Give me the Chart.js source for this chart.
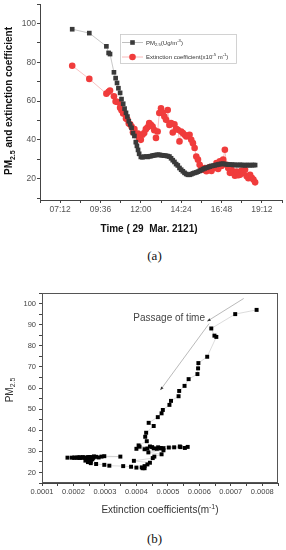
<!DOCTYPE html>
<html>
<head>
<meta charset="utf-8">
<script src="https://cdn.jsdelivr.net/npm/chart.js@4.4.1/dist/chart.umd.min.js"></script>
<style>
    html, body { margin: 0; padding: 0; background: #fff; }
    body { width: 286px; height: 550px; position: relative; overflow: hidden; }
    canvas { position: absolute; left: 0; }
    #chartA { top: 0; }
    #chartB { top: 280px; }
    .cap { position: absolute; left: 0; width: 309px; text-align: center; font-family: "Liberation Serif", serif; font-size: 13px; line-height: 15px; color: #111; }
</style>
</head>
<body>
<canvas id="chartA" width="286" height="245"></canvas>
<div class="cap" style="top:248px">(a)</div>
<canvas id="chartB" width="286" height="245"></canvas>
<div class="cap" style="top:531px">(b)</div>
<script>
// sampling times, 29 Mar.
const timeLabels = [
    '07:55', '08:56', '09:57', '10:05', '10:10',
    '10:24', '10:30', '10:35', '10:40', '10:46', '10:51', '10:57', '11:02', '11:07', '11:12',
    '11:17', '11:22', '11:27', '11:32', '11:37', '11:42', '11:46', '11:50', '11:54',
    '12:00', '12:06', '12:12', '12:18', '12:24', '12:30', '12:36', '12:42', '12:48', '12:54',
    '13:00', '13:06', '13:12', '13:18', '13:24', '13:30', '13:36', '13:42', '13:48', '13:54',
    '14:00', '14:06', '14:12', '14:18', '14:24', '14:30', '14:36', '14:42', '14:48', '14:54',
    '15:00', '15:06', '15:12', '15:18', '15:24', '15:30', '15:36', '15:42', '15:48', '15:54',
    '16:00', '16:06', '16:12', '16:18', '16:24', '16:30', '16:36', '16:42', '16:48', '16:54',
    '17:00', '17:06', '17:12', '17:18', '17:24', '17:30', '17:36', '17:42', '17:48', '17:54',
    '18:00', '18:06', '18:12', '18:18', '18:24', '18:30', '18:36', '18:42', '18:48'
];

// PM2.5 (ug/m3)
const pm25 = [
    97.0, 95.0, 88.2, 84.8, 84.2,
    74.8, 71.8, 69.3, 66.6, 64.2, 61.0, 58.6, 56.1, 53.9, 52.0,
    49.6, 48.0, 46.2, 43.5, 42.0, 38.8, 36.9, 34.8, 32.8,
    31.2, 31.0, 31.3, 31.4, 31.2, 31.5, 31.6, 31.9, 32.0, 32.2,
    32.3, 32.3, 32.1, 32.0, 31.9, 31.8, 31.6, 31.4, 30.5, 29.5,
    28.6, 27.5, 26.8, 25.5, 24.6, 23.8, 23.0, 22.4, 22.0, 22.0,
    22.3, 22.7, 23.0, 23.2, 23.6, 24.0, 24.4, 24.9, 25.3, 25.6,
    25.9, 26.2, 26.5, 26.7, 26.9, 27.1, 27.3, 27.5, 27.6, 27.7,
    27.5, 27.4, 27.3, 27.2, 27.2, 27.1, 27.1, 27.0, 27.0, 27.1,
    27.0, 27.0, 26.9, 27.0, 27.0, 26.9, 27.0, 27.0, 27.0
];

// extinction coefficient (x1e-5 m-1)
const extinction = [
    78.2, 71.4, 63.8, 64.8, 65.4,
    62.5, 59.7, 59.6, 59.4, 56.6, 55.3, 53.6, 53.4, 51.0, 50.5,
    48.4, 48.0, 46.8, 43.9, 45.5, 43.1, 42.8, 43.3, 40.7,
    40.0, 42.6, 43.5, 45.5, 46.5, 48.6, 47.7, 46.9, 45.0, 41.0,
    44.3, 53.8, 56.3, 54.0, 52.0, 50.3, 55.4, 47.7, 48.6, 43.8,
    48.0, 45.7, 45.2, 39.2, 44.3, 43.5, 42.6, 41.7, 42.0, 42.6,
    40.0, 38.3, 35.8, 31.4, 29.8, 27.2, 25.5, 24.6, 25.5, 23.8,
    24.5, 26.0, 24.0, 25.2, 26.3, 28.0, 25.0, 28.9, 26.5, 29.8,
    34.9, 27.2, 25.5, 23.0, 24.6, 22.9, 21.5, 23.7, 21.8, 22.0,
    24.2, 22.9, 24.6, 21.2, 20.2, 22.0, 20.4, 19.5, 18.1
];

// axis ticks: labelled majors and unlabelled minors
const timeTicksMajor = ['07:12', '09:36', '12:00', '14:24', '16:48', '19:12'];
const timeTicksMinor = ['06:00', '08:24', '10:48', '13:12', '15:36', '18:00', '20:24'];
const aYTicksMajor = [20, 40, 60, 80, 100];
const aYTicksMinor = [10, 30, 50, 70, 90, 110];
const bXTicksMajor = [0.0001, 0.0002, 0.0003, 0.0004, 0.0005, 0.0006, 0.0007, 0.0008];
const bXTicksMinor = [0.00015, 0.00025, 0.00035, 0.00045, 0.00055, 0.00065, 0.00075, 0.00085];
const bYTicksMajor = [20, 30, 40, 50, 60, 70, 80, 90, 100];
const bYTicksMinor = [15, 25, 35, 45, 55, 65, 75, 85, 95, 105];

// "Passage of time" arrow, in (b) data units (x1e-5): [x0, y0, x1, y1]
const arrowPath = [[74.1, 102.4, 62.5, 91.6], [63.1, 90.5, 47.6, 59.0]];
const arrowNote = { text: 'Passage of time', x: 61.8, y: 91.6 };

const FAMILY = '"Liberation Sans", Arial, sans-serif';
const BLACK_SQ = '#3a3a3a';
const RED = '#f03c3c';

function toMinutes(s) {
    const [h, m] = s.split(':').map(Number);
    return h * 60 + m;
}

function fmtTime(v) {
    const h = Math.floor(v / 60), m = v % 60;
    return String(h).padStart(2, '0') + ':' + String(m).padStart(2, '0');
}

// draws text made of parts [text, 'sub'|'sup'|undefined]
function drawRich(ctx, parts, x, y, size, weight, align) {
    const fontFor = p => `${weight} ${p[1] ? size * 0.7 : size}px ${FAMILY}`;
    let total = 0;
    const widths = parts.map(p => {
        ctx.font = fontFor(p);
        const w = ctx.measureText(p[0]).width;
        total += w;
        return w;
    });
    let cx = align === 'center' ? x - total / 2 : align === 'right' ? x - total : x;
    ctx.textAlign = 'left';
    ctx.textBaseline = 'alphabetic';
    parts.forEach((p, i) => {
        ctx.font = fontFor(p);
        const dy = p[1] === 'sub' ? size * 0.28 : p[1] === 'sup' ? -size * 0.42 : 0;
        ctx.fillText(p[0], cx, y + dy);
        cx += widths[i];
    });
}

function noEdgePadding(scale) {
    scale.paddingTop = 0;
    scale.paddingBottom = 0;
    scale.paddingLeft = 0;
    scale.paddingRight = 0;
}

function setTicks(values) {
    const sorted = values.slice().sort((a, b) => a - b);
    return scale => { scale.ticks = sorted.map(v => ({ value: v })); };
}

function axisOpts(extra) {
    return Object.assign({
        type: 'linear',
        bounds: 'data',
        grid: { drawOnChartArea: false, drawTicks: true, tickLength: 3, color: '#444', lineWidth: 1 },
        border: { display: true, color: '#444', width: 1 }
    }, extra);
}

// ---------- chart (a) ----------
const decorA = {
    id: 'decorA',
    afterDraw(chart) {
        const ctx = chart.ctx;
        ctx.save();
        ctx.fillStyle = '#111';
        drawRich(ctx, [['Time ( 29  Mar. 2121)']], 149, 232, 10, 'bold', 'center');
        ctx.save();
        ctx.translate(12, 101);
        ctx.rotate(-Math.PI / 2);
        drawRich(ctx, [['PM'], ['2.5', 'sub'], [' and extinction coefficient']], 0, 0, 10, 'bold', 'center');
        ctx.restore();

        // legend
        const [black, red] = chart.data.datasets;
        ctx.strokeStyle = '#c8c8c8';
        ctx.lineWidth = 0.8;
        ctx.strokeRect(120.5, 34.5, 116, 29);

        ctx.strokeStyle = black.borderColor;
        ctx.lineWidth = 0.8;
        ctx.beginPath(); ctx.moveTo(122, 42.5); ctx.lineTo(143, 42.5); ctx.stroke();
        ctx.fillStyle = black.pointBackgroundColor;
        ctx.fillRect(130.2, 40.2, 4.6, 4.6);

        ctx.strokeStyle = red.borderColor;
        ctx.beginPath(); ctx.moveTo(122, 57); ctx.lineTo(143, 57); ctx.stroke();
        ctx.fillStyle = red.pointBackgroundColor;
        ctx.beginPath(); ctx.arc(132.5, 57, 3.3, 0, Math.PI * 2); ctx.fill();

        ctx.fillStyle = '#333';
        drawRich(ctx, [['PM'], ['2.5', 'sub'], ['(Ug/m'], ['-3', 'sup'], [')']], 146, 44.5, 6, 'normal', 'left');
        drawRich(ctx, [['Extinction coefficient(x10'], ['-5', 'sup'], [' m'], ['-1', 'sup'], [')']], 146, 59, 6, 'normal', 'left');
        ctx.restore();
    }
};

const minutes = timeLabels.map(toMinutes);
const timeMajorMin = timeTicksMajor.map(toMinutes);

new Chart(document.getElementById('chartA'), {
    type: 'scatter',
    data: {
        datasets: [{
            label: 'PM2.5',
            data: minutes.map((t, i) => ({ x: t, y: pm25[i] })),
            showLine: true,
            borderColor: '#b0b0b0',
            borderWidth: 0.7,
            pointStyle: 'rect',
            pointRadius: 3.3,
            pointBorderWidth: 0,
            pointBackgroundColor: BLACK_SQ
        }, {
            label: 'Extinction coefficient',
            data: minutes.map((t, i) => ({ x: t, y: extinction[i] })),
            showLine: true,
            borderColor: '#f6a8a8',
            borderWidth: 0.7,
            pointStyle: 'circle',
            pointRadius: 3.3,
            pointBorderWidth: 0,
            pointBackgroundColor: RED
        }]
    },
    options: {
        responsive: false,
        animation: false,
        events: [],
        layout: { padding: { top: 4, right: 4, left: 0, bottom: 25 } },
        plugins: { legend: { display: false }, tooltip: { enabled: false } },
        scales: {
            x: axisOpts({
                min: toMinutes(timeTicksMinor[0]),
                max: toMinutes(timeTicksMinor[timeTicksMinor.length - 1]),
                afterBuildTicks: setTicks(timeTicksMajor.concat(timeTicksMinor).map(toMinutes)),
                ticks: {
                    autoSkip: false, maxRotation: 0, padding: 2,
                    color: '#555', font: { family: FAMILY, size: 8.5 },
                    callback: v => (timeMajorMin.includes(v) ? fmtTime(v) : '')
                },
                afterFit: s => { s.height = 20; noEdgePadding(s); }
            }),
            y: axisOpts({
                min: 9, max: 110,
                afterBuildTicks: setTicks(aYTicksMajor.concat(aYTicksMinor)),
                ticks: {
                    autoSkip: false, padding: 1,
                    color: '#555', font: { family: FAMILY, size: 8.5 },
                    callback: v => (aYTicksMajor.includes(v) ? String(v) : '')
                },
                afterFit: s => { s.width = 40; noEdgePadding(s); }
            })
        }
    },
    plugins: [decorA]
});

// ---------- chart (b) ----------
const decorB = {
    id: 'decorB',
    afterDraw(chart) {
        const { ctx, chartArea: a, scales: { x, y } } = chart;
        ctx.save();
        ctx.strokeStyle = '#555';
        ctx.lineWidth = 1;
        ctx.strokeRect(Math.round(a.left) + 0.5, Math.round(a.top) + 0.5,
            Math.round(a.right - a.left) - 1, Math.round(a.bottom - a.top) - 1);

        // arrows
        arrowPath.forEach(seg => {
            const x0 = x.getPixelForValue(seg[0]), y0 = y.getPixelForValue(seg[1]);
            const x1 = x.getPixelForValue(seg[2]), y1 = y.getPixelForValue(seg[3]);
            ctx.strokeStyle = '#a8a8a8';
            ctx.lineWidth = 0.8;
            ctx.beginPath(); ctx.moveTo(x0, y0); ctx.lineTo(x1, y1); ctx.stroke();
            const ang = Math.atan2(y1 - y0, x1 - x0);
            ctx.fillStyle = '#333';
            ctx.beginPath();
            ctx.moveTo(x1, y1);
            ctx.lineTo(x1 - 3.5 * Math.cos(ang) + 1.5 * Math.sin(ang), y1 - 3.5 * Math.sin(ang) - 1.5 * Math.cos(ang));
            ctx.lineTo(x1 - 3.5 * Math.cos(ang) - 1.5 * Math.sin(ang), y1 - 3.5 * Math.sin(ang) + 1.5 * Math.cos(ang));
            ctx.closePath();
            ctx.fill();
        });
        ctx.fillStyle = '#444';
        drawRich(ctx, [[arrowNote.text]], x.getPixelForValue(arrowNote.x), y.getPixelForValue(arrowNote.y), 10, 'normal', 'right');

        // axis titles
        ctx.fillStyle = '#333';
        drawRich(ctx, [['Extinction coefficients(m'], ['-1', 'sup'], [')']], 160, 233, 10, 'normal', 'center');
        ctx.translate(12.5, 110);
        ctx.rotate(-Math.PI / 2);
        drawRich(ctx, [['PM'], ['2.5', 'sub']], 0, 0, 10, 'normal', 'center');
        ctx.restore();
    }
};

// (b) x axis is kept in units of 1e-5 m-1, same as the extinction array
const bXMajorU = bXTicksMajor.map(v => Math.round(v * 1e5));
const bXMinorU = bXTicksMinor.map(v => Math.round(v * 1e5));

new Chart(document.getElementById('chartB'), {
    type: 'scatter',
    data: {
        datasets: [{
            label: 'PM2.5 vs extinction',
            data: extinction.map((e, i) => ({ x: e, y: pm25[i] })),
            showLine: true,
            borderColor: '#c4c4c4',
            borderWidth: 0.6,
            pointStyle: 'rect',
            pointRadius: 2.8,
            pointBorderWidth: 0,
            pointBackgroundColor: '#000'
        }]
    },
    options: {
        responsive: false,
        animation: false,
        events: [],
        layout: { padding: { top: 13, right: 8, left: 0, bottom: 22 } },
        plugins: { legend: { display: false }, tooltip: { enabled: false } },
        scales: {
            x: axisOpts({
                min: 10, max: 85,
                afterBuildTicks: setTicks(bXMajorU.concat(bXMinorU)),
                ticks: {
                    autoSkip: false, maxRotation: 0, padding: 1,
                    color: '#444', font: { family: FAMILY, size: 7.5 },
                    callback: v => (bXMajorU.includes(v) ? (v / 1e5).toFixed(4) : '')
                },
                afterFit: s => { s.height = 20; noEdgePadding(s); }
            }),
            y: axisOpts({
                min: 15, max: 105,
                afterBuildTicks: setTicks(bYTicksMajor.concat(bYTicksMinor)),
                ticks: {
                    autoSkip: false, padding: 3,
                    color: '#444', font: { family: FAMILY, size: 7.5 },
                    callback: v => (bYTicksMajor.includes(v) ? String(v) : '')
                },
                afterFit: s => { s.width = 42; noEdgePadding(s); }
            })
        }
    },
    plugins: [decorB]
});
</script>
</body>
</html>
